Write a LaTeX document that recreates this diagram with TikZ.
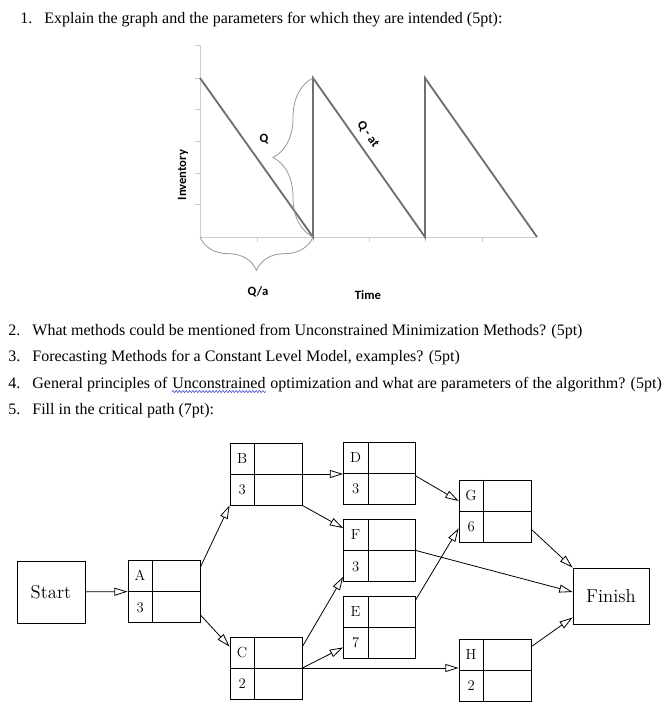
\documentclass[tikz,border=0pt]{standalone}
\usepackage{fontspec}
\usepackage{tikz}
\usetikzlibrary{positioning,arrows.meta,calc,decorations.pathreplacing,decorations.pathmorphing}
\newfontfamily\qfont{Liberation Serif}
\newfontfamily\gfont{Carlito}
\definecolor{curve}{RGB}{112,112,112}
\definecolor{axisgray}{RGB}{205,205,205}
\definecolor{bracegray}{RGB}{150,150,150}
\definecolor{spell}{RGB}{70,80,200}

\begin{document}
\begin{tikzpicture}[x=0.75pt,y=-0.75pt,line width=0.6pt,
    every node/.style={inner sep=0pt},
    qtext/.style={anchor=base west,font=\qfont\fontsize{12}{14}\selectfont},
    glabel/.style={font=\gfont\bfseries\fontsize{9.5}{11}\selectfont},
    actbox/.style={draw,minimum width=54pt,minimum height=46.5pt},
    endbox/.style={draw,minimum height=46.5pt,font=\fontsize{14}{16}\selectfont},
    boxtext/.style={font=\fontsize{11}{13}\selectfont},
    link/.style={-{Triangle[open,length=10pt,width=6pt]}}]
  \useasboundingbox (0,0) rectangle (667,711);

  % questions
  \node[qtext] (n1) at (20,23) {1.};
  \node[qtext] (q1) at (44,23) {Explain the graph and the parameters for which they are intended (5pt):};
  \node[qtext] (n2) at (8,335) {2.};
  \node[qtext] (q2) at (32,335) {What methods could be mentioned from Unconstrained Minimization Methods? (5pt)};
  \node[qtext] (n3) at (8,361) {3.};
  \node[qtext] (q3) at (32,361) {Forecasting Methods for a Constant Level Model, examples? (5pt)};
  \node[qtext] (n4) at (8,388) {4.};
  \node[qtext] (q4a) at (32,388) {General principles of};
  \node[qtext] (q4b) at ($(q4a.base east)+(4,0)$) {Unconstrained};
  \node[qtext] (q4c) at (q4b.base east) {\ optimization and what are parameters of the algorithm? (5pt)};
  \node[qtext] (n5) at (8,414) {5.};
  \node[qtext] (q5) at (32,414) {Fill in the critical path (7pt):};
  % spell check mark
  \draw[spell,line width=0.45pt,decorate,decoration={snake,amplitude=0.8pt,segment length=2.5pt}]
        ($(q4b.south west)+(0,3)$) -- ($(q4b.south east)+(0,3)$);

  % inventory graph
  \draw[axisgray] (200,45) -- (200,237) -- (537,237);
  \foreach \y in {45,78,109,141,173,204} \draw[axisgray] (195,\y) -- (200,\y);
  \foreach \x in {257,313,369,425,482} \draw[axisgray] (\x,237) -- (\x,242);
  \draw[curve,line width=1.4pt] (200,78) -- (313,237) -- (313,78) -- (425,237) -- (425,78) -- (537,237);
  \draw[bracegray,decorate,decoration={brace,amplitude=30pt}] (313,237) -- (313,78);
  \draw[bracegray,decorate,decoration={brace,amplitude=25pt}] (313,237) -- (200,237);
  \node[glabel] (qlab) at (264,139) {Q};
  \node[glabel,rotate=-55] (qat) at (368,134) {Q - at};
  \node[glabel,rotate=90] (inv) at (183,175) {Inventory};
  \node[glabel] (qa) at (258,292) {Q/a};
  \node[glabel] (time) at (368,295) {Time};

  % critical path network
  \node[endbox,minimum width=51pt] (start) at (51,592) {Start};
  \node[endbox,minimum width=57pt,minimum height=42pt] (finish) at (611,596) {Finish};
  \foreach \n/\x/\y/\d in {A/164/591.5/3, B/266/474/3, C/266/668/2, D/379.5/473/3,
                          F/379.5/550.5/3, E/379.5/627/7, G/495/511/6, H/495/670/2} {
    \node[actbox] (\n) at (\x,\y) {};
    \draw (\n.west) -- (\n.east);
    \draw ($(\n.north west)+(25,0)$) -- ($(\n.south west)+(25,0)$);
    \node[boxtext] at ($(\n.north west)+(12.5,15.5)$) {\n};
    \node[boxtext] at ($(\n.south west)+(12.5,-15.5)$) {\d};
  }
  \draw[link] (start) -- (A);
  \draw[link] ($(A.north east)+(0,7)$) -- (B.south west);
  \draw[link] ($(A.south east)+(0,-8)$) -- ($(C.north west)+(0,10)$);
  \draw[link] (B.east) -- (B.east -| D.west);
  \draw[link] (B.south east) -- ($(F.north west)+(0,9)$);
  \draw[link] ($(C.north east)+(0,10)$) -- ($(F.south west)+(0,-5)$);
  \draw[link] (C.east) -- ($(E.south west)+(0,-11)$);
  \draw[link] (C.east) -- (C.east -| H.west);
  \draw[link] ($(D.east)+(0,3)$) -- ($(G.west)+(0,-10)$);
  \draw[link] ($(E.north east)+(0,4)$) -- ($(G.south west)+(0,-14)$);
  \draw[link] (F.east) -- ($(finish.west)+(0,-4)$);
  \draw[link] ($(G.south east)+(0,-13)$) -- (finish.north west);
  \draw[link] ($(H.north east)+(0,8)$) -- ($(finish.south west)+(0,-7)$);
\end{tikzpicture}
\end{document}
